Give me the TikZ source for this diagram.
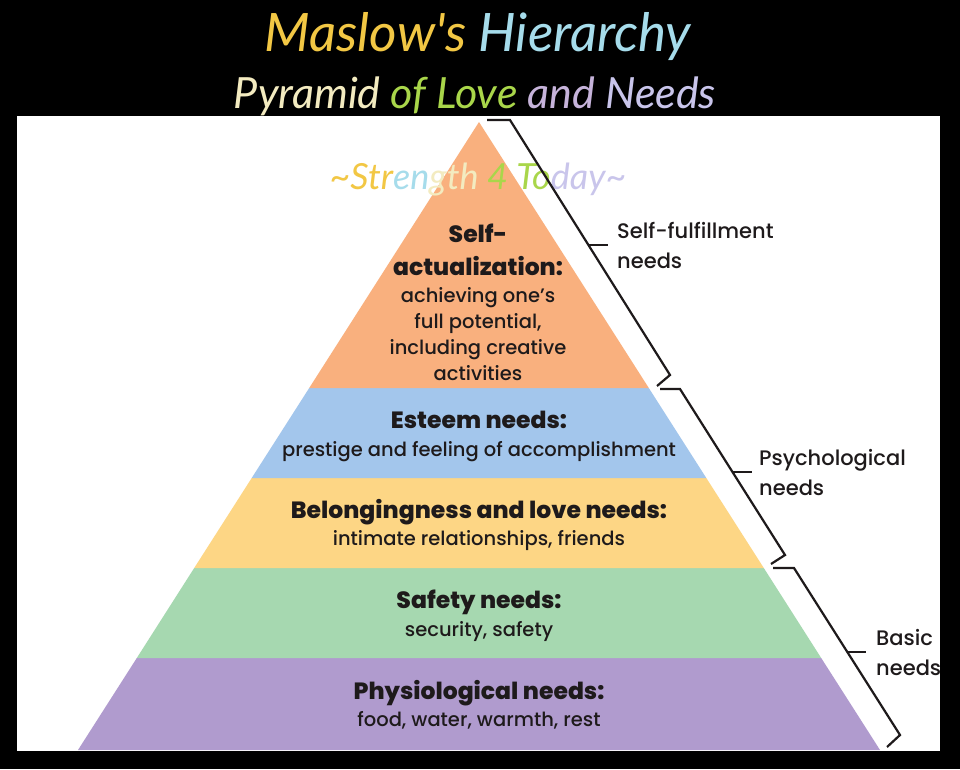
\documentclass[tikz,border=0pt]{standalone}
\usepackage{fontspec}
\setmainfont{Poppins Medium}
\newfontfamily\heavyfont{Poppins ExtraBold}
\newfontfamily\handfont{Lato}
\usetikzlibrary{positioning}

\definecolor{selfcol}{HTML}{F9B07E}
\definecolor{esteemcol}{HTML}{A3C6EC}
\definecolor{lovecol}{HTML}{FDD685}
\definecolor{safetycol}{HTML}{A6D8B0}
\definecolor{physcol}{HTML}{B09BCE}
\definecolor{inktext}{HTML}{1E1A1B}
\definecolor{hyellow}{HTML}{F2C744}
\definecolor{hblue}{HTML}{A6DCEB}
\definecolor{hcream}{HTML}{F3EBC0}
\definecolor{hgreen}{HTML}{A9D64A}
\definecolor{hlilac}{HTML}{C6B3DA}
\definecolor{hperi}{HTML}{C9C5EB}

\newcommand{\hd}[1]{{\heavyfont\fontsize{23.5}{26}\selectfont #1}}

\tikzset{
    layertext/.style={align=center, text=inktext, inner sep=0pt,
        font=\fontsize{19.5}{26}\selectfont},
    bracelabel/.style={anchor=west, align=left, text=inktext, inner sep=0pt,
        font=\fontsize{21}{30}\selectfont},
    brace/.style={line width=2.2pt, line join=miter, inktext},
}

\begin{document}
\begin{tikzpicture}[x=1pt,y=-1pt]
        % Black page and white panel
        \fill[black] (0,0) rectangle (960,769);
        \useasboundingbox (0,0) rectangle (960,769);
        \fill[white] (17,116) rectangle (940,751);

        % Title lines
        \node (title) at (478,37) {\handfont\itshape\fontsize{53}{56}\selectfont
            \textcolor{hyellow}{Maslow's} \textcolor{hblue}{Hierarchy}};
        \node (subtitle) at (475,96) {\handfont\itshape\fontsize{43}{46}\selectfont
            \textcolor{hcream}{Pyramid} \textcolor{hgreen}{of Love}
            \textcolor{hlilac}{and} \textcolor{hperi}{Needs}};

        % Pyramid layers, bottom to top
        \fill[physcol] (136.8,658) -- (821.2,658) -- (880,750) -- (78,750) -- cycle;
        \fill[safetycol] (194.2,568) -- (763.8,568) -- (821.2,658) -- (136.8,658) -- cycle;
        \fill[lovecol] (251.7,478) -- (706.3,478) -- (763.8,568) -- (194.2,568) -- cycle;
        \fill[esteemcol] (309.2,388) -- (648.8,388) -- (706.3,478) -- (251.7,478) -- cycle;
        \fill[selfcol] (479,122) -- (648.8,388) -- (309.2,388) -- cycle;

        % Watermark
        \node (mark) at (478,180) {\handfont\itshape\fontsize{36}{40}\selectfont
            \textcolor{hyellow}{\textasciitilde Str}\textcolor{hblue}{en}\textcolor{hcream}{gth}
            \textcolor{hgreen}{4} \textcolor{hgreen}{To}\textcolor{hperi}{day\textasciitilde}};

        % Layer texts
        \node[layertext] (self) at (478,302) {\hd{Self-}\\[7pt]
            \hd{actualization:}\\[1pt]
            achieving one’s\\ full potential,\\ including creative\\ activities};
        \node[layertext] (esteem) at (479,436) {\hd{Esteem needs:}\\[2pt]
            prestige and feeling of accomplishment};
        \node[layertext] (love) at (479,525) {\hd{Belongingness and love needs:}\\[1pt]
            intimate relationships, friends};
        \node[layertext] (safety) at (479,616) {\hd{Safety needs:}\\[2pt]
            security, safety};
        \node[layertext] (phys) at (479,705) {\hd{Physiological needs:}\\[1pt]
            food, water, warmth, rest};

        % Braces on the right side
        \draw[brace] (487,120) -- (510,120) -- (670,375) -- (657,386);
        \coordinate (sf) at (608,245);
        \draw[brace] (588,245) -- (sf);
        \node[bracelabel, right=9pt of sf] (sflabel) {Self-fulfillment\\needs};

        \draw[brace] (660,389) -- (680,389) -- (785,555) -- (771,564);
        \coordinate (ps) at (752,472);
        \draw[brace] (733,472) -- (ps);
        \node[bracelabel, right=7pt of ps] (pslabel) {Psychological\\needs};

        \draw[brace] (773,568) -- (794,568) -- (900,735) -- (887,747);
        \coordinate (bs) at (866,652);
        \draw[brace] (847,652) -- (bs);
        \node[bracelabel, right=10pt of bs] (bslabel) {Basic\\needs};
\end{tikzpicture}
\end{document}
